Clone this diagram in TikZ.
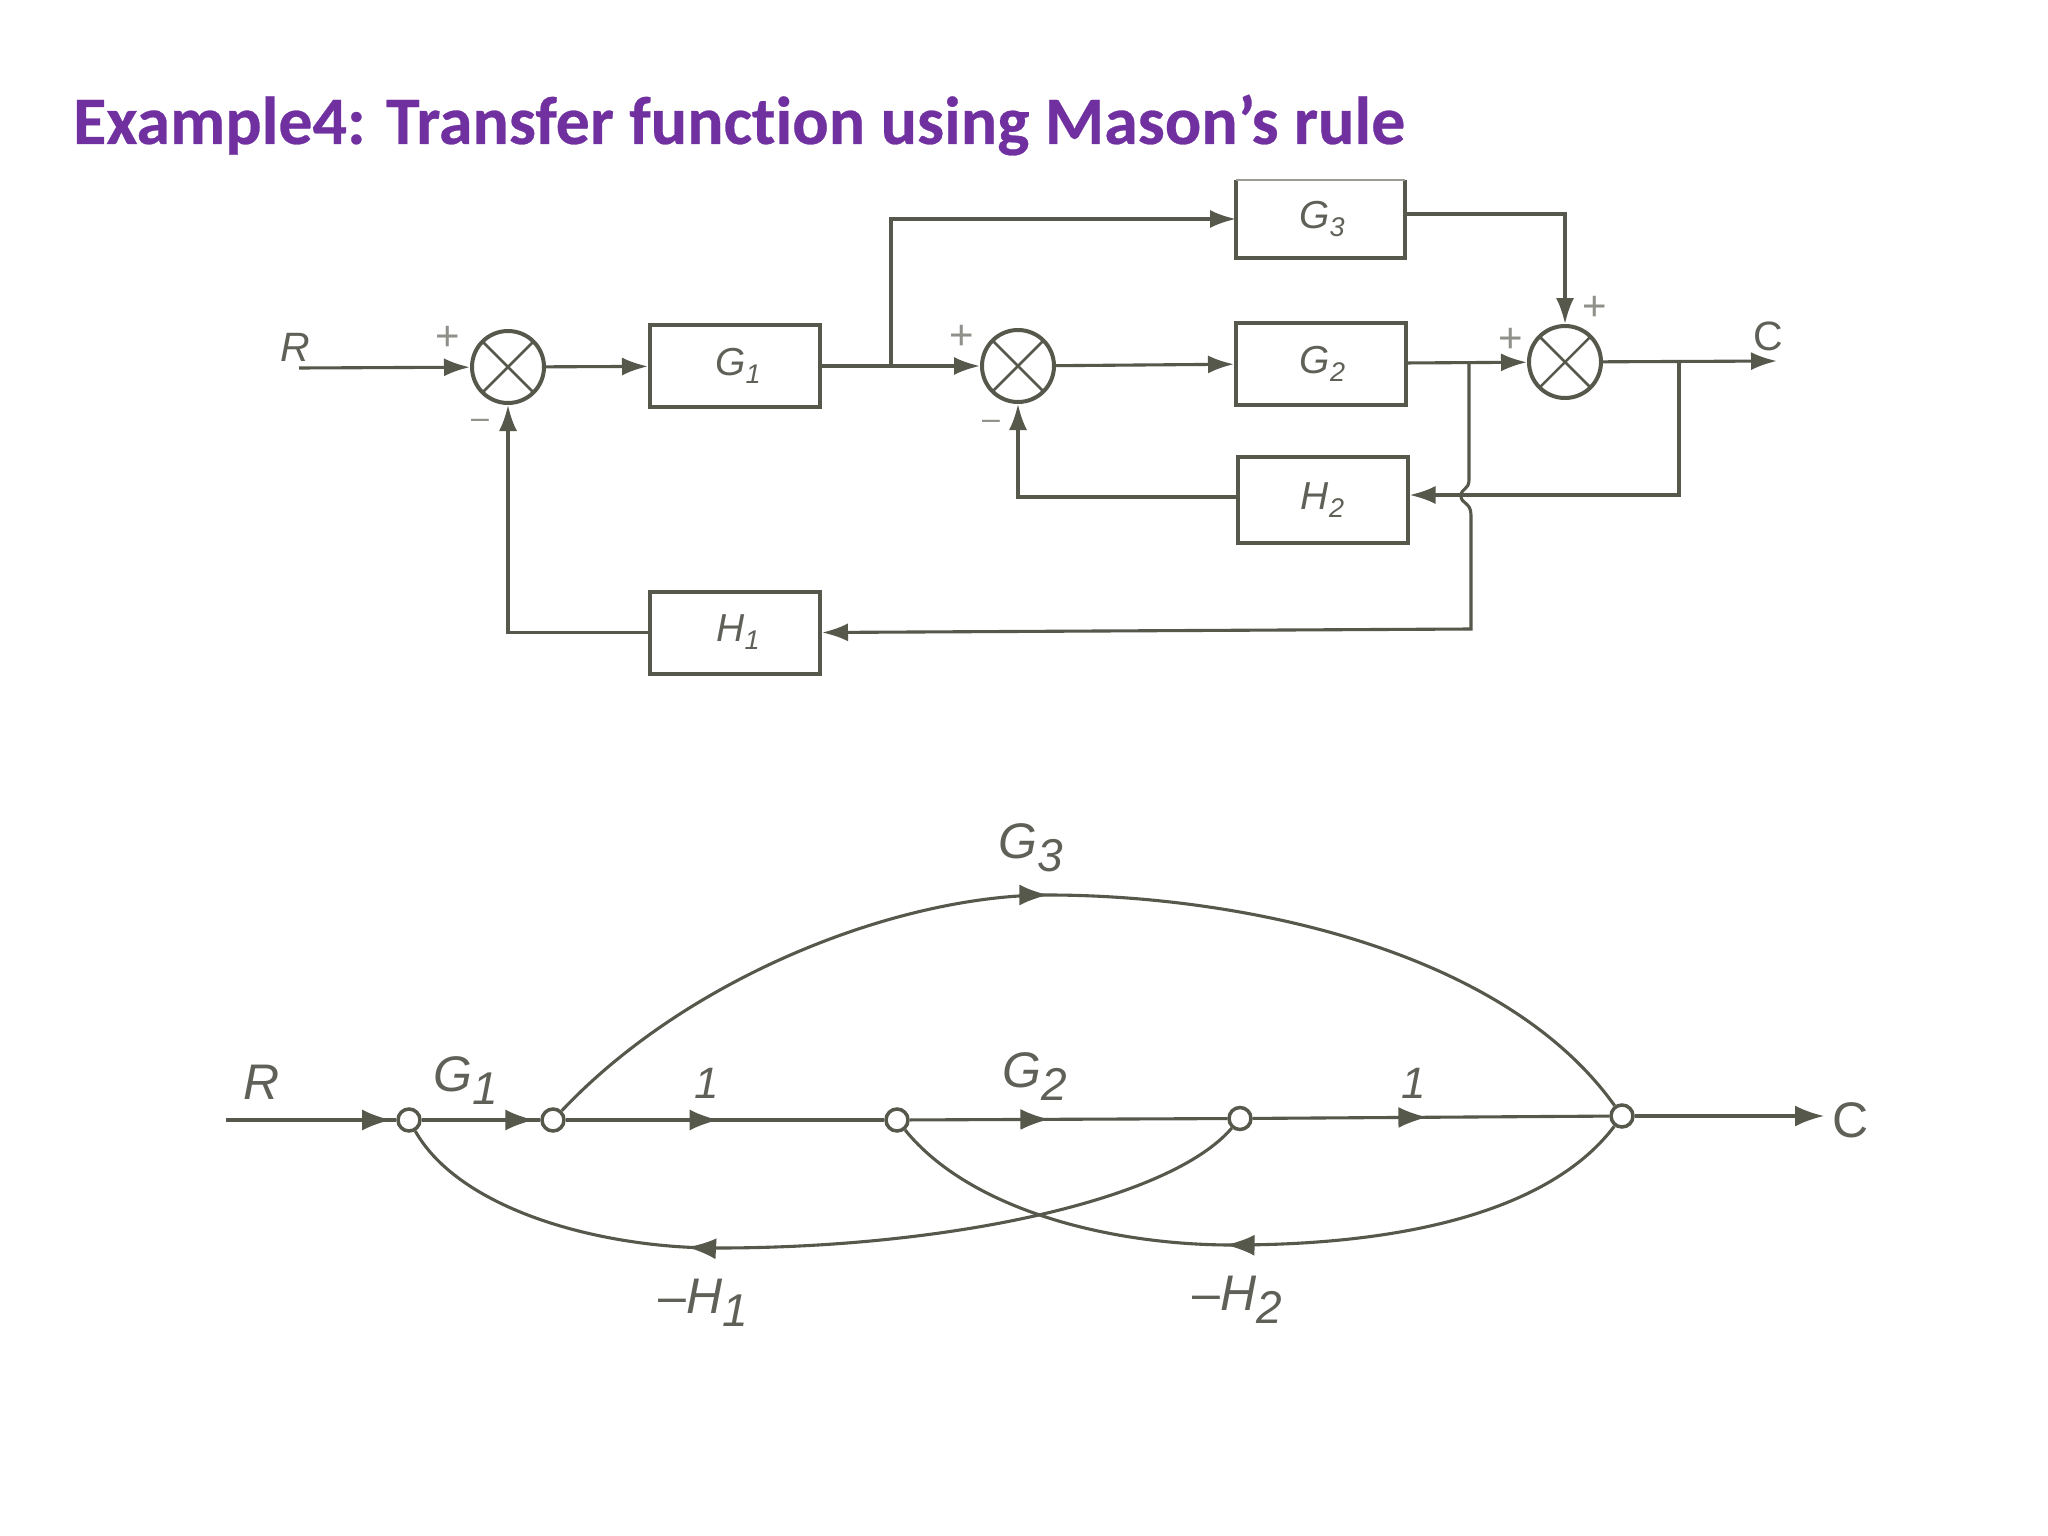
\documentclass[tikz,border=0pt]{standalone}
\usepackage{fontspec}
\setmainfont{Liberation Sans}
\newfontfamily\titlefont[Ligatures=NoCommon,BoldFeatures={FakeBold=0.4}]{Carlito}
\usetikzlibrary{arrows.meta,decorations.markings,calc}
\definecolor{inkline}{HTML}{56584C}
\definecolor{inktext}{HTML}{5F6158}
\definecolor{titlepurple}{HTML}{7030A0}
\newcommand{\sbl}[2]{\textit{#1}\raisebox{-8pt}{\fontsize{27}{27}\selectfont\textit{#2}}}
\newcommand{\lbl}[2]{\textit{#1}\raisebox{-13pt}{\fontsize{46}{46}\selectfont\textit{#2}}}
\tikzset{
  x=1pt,y=-1pt,
  wire/.style={draw=inkline,line width=3.1pt},
  blk/.style={wire,-{Latex[length=26pt,width=18pt]}},
  blockbox/.style={draw=inkline,line width=4pt,minimum width=170pt,minimum height=82pt,inner sep=0pt,text=inktext,font=\fontsize{39}{39}\selectfont},
  sumj/.style={circle,draw=inkline,line width=4pt,minimum size=72pt,inner sep=0pt,
    path picture={\draw[inkline,line width=2.5pt]
      (path picture bounding box.north west)--(path picture bounding box.south east)
      (path picture bounding box.north east)--(path picture bounding box.south west);}},
  sgn/.style={circle,draw=inkline,fill=white,line width=3.5pt,minimum size=22pt,inner sep=0pt},
  sigtext/.style={inner sep=0pt,text=inktext,font=\fontsize{50}{50}\selectfont},
  smalltext/.style={inner sep=0pt,text=inktext,font=\fontsize{41}{41}\selectfont},
  signtext/.style={inner sep=0pt,text=inktext!70,font=\fontsize{42}{42}\selectfont},
  midtip/.style={wire,postaction={decorate},decoration={markings,
    mark=at position #1 with {\arrow[inkline]{Latex[length=29pt,width=21pt]}}}},
}
\begin{document}
\begin{tikzpicture}
\useasboundingbox[fill=white] (0,0) rectangle (2048,1536);
\node[anchor=base west,inner sep=0pt,text=titlepurple,font=\titlefont\bfseries\fontsize{67.9}{68}\selectfont] (title) at (73,144) {Example4: Transfer function using Mason’s rule};

% block diagram
\coordinate (rin) at (299,368);
\node[sumj] (S1) at (508,367) {};
\node[blockbox] (G1) at (735,366) {\hspace{6pt}\sbl{G}{1}};
\node[sumj] (S2) at (1018,366) {};
\node[blockbox] (G2) at (1321,363.5) {\hspace{3pt}\sbl{G}{2}};
\node[sumj] (S3) at (1565,362) {};
\node[blockbox,draw=none,minimum width=165pt,minimum height=74pt] (G3) at (1320.5,219) {\hspace{3pt}\sbl{G}{3}};
\draw[inkline,line width=4pt] (G3.north west)--(G3.south west)--(G3.south east)--(G3.north east);
\draw[inkline!60,line width=1.5pt] (G3.north west)--(G3.north east);
\node[blockbox,minimum height=86pt] (H2) at (1322.5,500) {\sbl{H}{2}};
\node[blockbox] (H1) at (735,632.5) {\hspace{6pt}\sbl{H}{1}};
\coordinate (j1) at (891,365);
\coordinate (j2) at (1469,362);
\coordinate (j3) at (1679,361);
\coordinate (cout) at (1777,361);

\draw[blk] (rin) -- (S1);
\draw[blk] (S1) -- (G1);
\draw[blk] (G1) -- (S2);
\draw[blk] (S2) -- (G2);
\draw[blk] (G2) -- (S3);
\draw[blk] (S3) -- (cout);
\draw[blk] (j1) |- (G3);
\draw[blk] ([yshift=5pt]G3.east) -| (S3);
\draw[blk] (j3) |- ([yshift=5pt]H2.east);
\draw[blk] ([yshift=3pt]H2.west) -| (S2);
\draw[blk] (H1) -| (S1);
\draw[blk] (j2) -- (1469,480) .. controls (1469,490) and (1461,488) .. (1461,496)
  .. controls (1461,504) and (1471,502) .. (1471,515) -- (1471,629) -- (H1.east);

\node[smalltext,font=\fontsize{41}{41}\selectfont\itshape] (lR) at (295,347) {R};
\node[smalltext] (lC) at (1768,336) {C};
\node[signtext] (p1) at (448,338) {+};
\node[signtext,font=\fontsize{32}{32}\selectfont] (m1) at (480,424) {–};
\node[signtext] (p2) at (962,337) {+};
\node[signtext,font=\fontsize{32}{32}\selectfont] (m2) at (991,425) {–};
\node[signtext] (p3) at (1511,340) {+};
\node[signtext] (p4) at (1595,308) {+};

% signal flow graph
\coordinate (sin) at (226,1120);
\node[sgn] (n1) at (409,1120) {};
\node[sgn] (n2) at (553,1120) {};
\node[sgn] (n3) at (897,1120) {};
\node[sgn] (n4) at (1240,1118.5) {};
\node[sgn] (n5) at (1622,1116) {};
\coordinate (sout) at (1824,1116);

\draw[midtip=.97] (sin) -- (n1);
\draw[midtip=.95] (n1) -- (n2);
\draw[midtip=.48] (n2) -- (n3);
\draw[midtip=.44] (n3) -- (n4);
\draw[midtip=.49] (n4) -- (n5);
\draw[wire,-{Latex[length=29pt,width=21pt]}] (n5) -- (sout);
\coordinate (ga) at (1048,895);
\coordinate (ha) at (717,1248);
\coordinate (hb) at (1232,1245);
\draw[midtip=.466] (n2) .. controls (690,975) and (900,895) .. (ga)
  .. controls (1230,895) and (1500,945) .. (n5);
\draw[midtip=.65] (n4) .. controls (1170,1200) and (950,1248) .. (ha)
  .. controls (600,1248) and (460,1210) .. (n1);
\draw[midtip=.545] (n5) .. controls (1555,1205) and (1420,1245) .. (hb)
  .. controls (1110,1245) and (970,1210) .. (n3);

\node[sigtext,font=\fontsize{50}{50}\selectfont\itshape] (sR) at (262,1082) {R};
\node[sigtext] (sG1) at (466,1081) {\lbl{G}{1}};
\node[sigtext,font=\fontsize{44}{44}\selectfont\itshape] (s1a) at (707,1083) {1};
\node[sigtext] (sG2) at (1035,1077) {\lbl{G}{2}};
\node[sigtext,font=\fontsize{44}{44}\selectfont\itshape] (s1b) at (1414,1083) {1};
\node[sigtext] (sG3) at (1031,848) {\lbl{G}{3}};
\node[sigtext] (sH1) at (703,1303) {–\lbl{H}{1}};
\node[sigtext] (sH2) at (1237,1300) {–\lbl{H}{2}};
\node[sigtext] (sC) at (1851,1120) {C};
\end{tikzpicture}
\end{document}
